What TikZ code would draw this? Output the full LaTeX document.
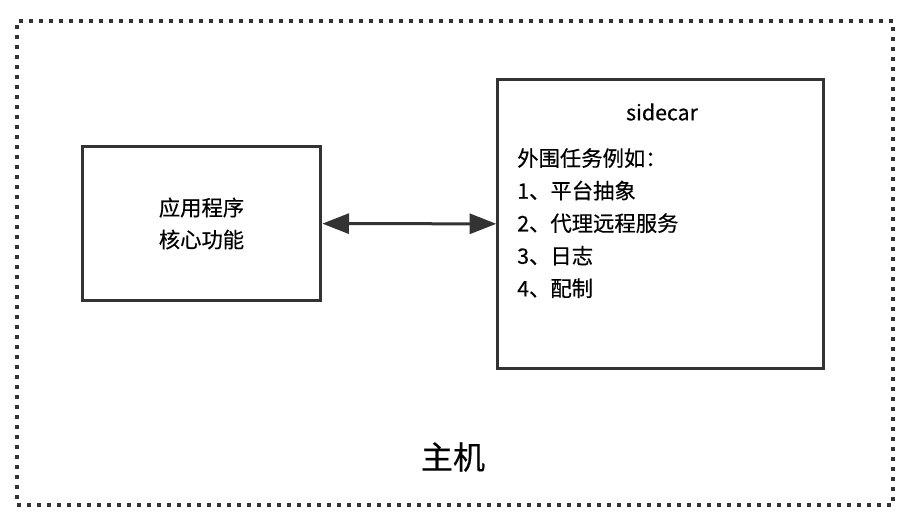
\documentclass[tikz,border=0pt]{standalone}
\usepackage{fontspec}
\setmainfont[FakeBold=0.4]{Noto Sans CJK SC}
\usetikzlibrary{arrows.meta,positioning}
\definecolor{linegray}{HTML}{333333}
\tikzset{
    hostbox/.style={draw=linegray,line width=3pt,dash pattern=on 3pt off 4.5pt,
        minimum width=657pt,minimum height=363pt,inner sep=0pt},
    blockbox/.style={draw=linegray,line width=2.25pt,inner sep=0pt,
        align=center,font=\fontsize{16}{24}\selectfont},
    itemtext/.style={align=left,inner sep=0pt,font=\fontsize{16}{24.4}\selectfont}
}

\begin{document}
\begin{tikzpicture}[x=0.75pt,y=-0.75pt]
    \useasboundingbox (0,0) rectangle (922,524);
    \node[hostbox] (host) at (455,263) {};
    \node[blockbox,minimum width=179pt,minimum height=116pt] (app) at (201.5,223.5)
        {应用程序\\核心功能};
    \node[blockbox,minimum width=244pt,minimum height=216pt] (sidecar) at (660.5,224) {};
    \node[itemtext] (title) at (662,112) {sidecar};
    \node[itemtext,anchor=north west] (tasks) at (517,148)
        {外围任务例如：\\1、平台抽象\\2、代理远程服务\\3、日志\\4、配制};
    \node[font=\fontsize{24}{28}\selectfont] (hostlabel) at (453,457) {主机};
    \draw[{Triangle[length=20pt,width=15pt]}-{Triangle[length=20pt,width=15pt]},
        line width=2.25pt,draw=linegray,fill=linegray]
        (app) -- (sidecar);
\end{tikzpicture}
\end{document}
